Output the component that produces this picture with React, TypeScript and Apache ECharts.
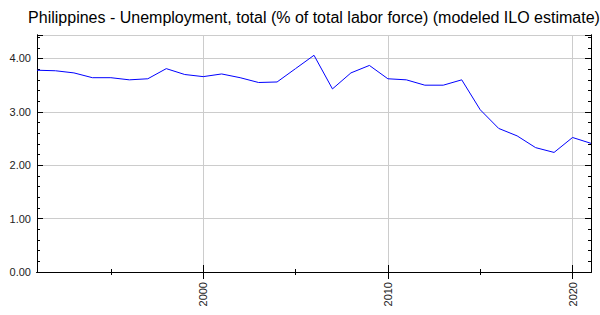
import React, { useEffect, useRef } from "react";
import * as echarts from "echarts";

const TITLE = "Philippines - Unemployment, total (% of total labor force) (modeled ILO estimate)";

const years: string[] = [
  "1991", "1992", "1993", "1994", "1995", "1996", "1997", "1998", "1999", "2000",
  "2001", "2002", "2003", "2004", "2005", "2006", "2007", "2008", "2009", "2010",
  "2011", "2012", "2013", "2014", "2015", "2016", "2017", "2018", "2019", "2020", "2021",
];

const unemployment: number[] = [
  3.78, 3.77, 3.73, 3.64, 3.64, 3.60, 3.62, 3.81, 3.70, 3.66,
  3.71, 3.64, 3.55, 3.56, 3.81, 4.06, 3.43, 3.73, 3.87, 3.62,
  3.60, 3.50, 3.50, 3.60, 3.04, 2.69, 2.55, 2.33, 2.24, 2.52, 2.41,
];

const Y_MIN = 0;
const Y_MAX = 4.44;

export default function App() {
  const ref = useRef<HTMLDivElement>(null);

  useEffect(() => {
    if (!ref.current) return;
    const chart = echarts.init(ref.current, null, { renderer: "svg" });
    const font = "'Liberation Sans', Arial, sans-serif";
    const isMajorYear = (_i: number, v: string) => Number(v) % 10 === 0;
    const isMinorYear = (_i: number, v: string) => Number(v) % 5 === 0;

    const xBase = (position: "bottom" | "top", major: boolean, labels: boolean) => ({
      type: "category",
      data: years,
      boundaryGap: false,
      position,
      axisLine: { show: true, lineStyle: { color: "#000", width: 1 } },
      axisTick: {
        show: true,
        inside: true,
        length: major ? 7 : 3,
        interval: major ? isMajorYear : isMinorYear,
        lineStyle: { color: "#000" },
      },
      axisLabel: labels
        ? {
            show: true,
            rotate: 90,
            margin: 10,
            interval: isMajorYear,
            color: "#222",
            fontFamily: font,
            fontSize: 11,
          }
        : { show: false },
      splitLine: labels
        ? { show: true, interval: isMajorYear, lineStyle: { color: "#cccccc", width: 1 } }
        : { show: false },
    });

    const yBase = (position: "left" | "right", major: boolean, labels: boolean) => ({
      type: "value",
      min: Y_MIN,
      max: Y_MAX,
      interval: major ? 1 : 0.2,
      position,
      axisLine: { show: true, lineStyle: { color: "#000", width: 1 } },
      axisTick: { show: true, inside: true, length: major ? 6 : 3, lineStyle: { color: "#000" } },
      axisLabel: labels
        ? {
            show: true,
            margin: 6,
            color: "#222",
            fontFamily: font,
            fontSize: 11,
            formatter: (v: number) =>
              Math.abs(v - Math.round(v)) < 1e-6 ? v.toFixed(2) : "",
          }
        : { show: false },
      splitLine: labels
        ? { show: true, lineStyle: { color: "#cccccc", width: 1 } }
        : { show: false },
    });

    chart.setOption({
      animation: false,
      backgroundColor: "#ffffff",
      graphic: [
        {
          type: "text",
          x: 314,
          y: 17,
          style: {
            text: TITLE,
            fill: "#000",
            font: `16px ${font}`,
            textAlign: "center",
            textVerticalAlign: "middle",
          },
        },
      ],
      grid: { left: 37, right: 9, top: 35, bottom: 43, containLabel: false },
      xAxis: [
        xBase("bottom", true, true),
        xBase("bottom", false, false),
        xBase("top", true, false),
        xBase("top", false, false),
      ],
      yAxis: [
        yBase("left", true, true),
        yBase("left", false, false),
        yBase("right", true, false),
        yBase("right", false, false),
      ],
      series: [
        {
          type: "line",
          xAxisIndex: 0,
          yAxisIndex: 0,
          data: unemployment,
          showSymbol: false,
          symbol: "none",
          lineStyle: { color: "#0000ff", width: 1 },
          itemStyle: { color: "#0000ff" },
          z: 5,
        },
      ],
    });

    return () => chart.dispose();
  }, []);

  return <div ref={ref} style={{ width: 600, height: 315, position: "absolute", left: 0, top: 0 }} />;
}
